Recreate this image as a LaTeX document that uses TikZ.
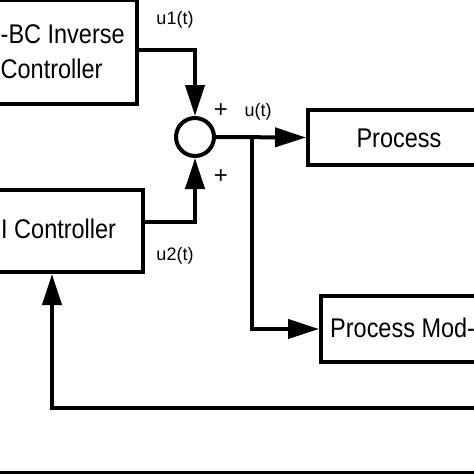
\documentclass[tikz,border=0pt]{standalone}
\usepackage{fontspec}
\setmainfont{Liberation Sans}
\newfontfamily\boxfont[FakeStretch=0.87]{Liberation Sans}
\usetikzlibrary{arrows.meta,calc}
\begin{document}
\begin{tikzpicture}[x=1pt,y=-1pt,
  blk/.style={draw,line width=4pt,rectangle,inner sep=0pt},
  sumnode/.style={draw,line width=4pt,circle,inner sep=0pt,minimum size=38pt},
  conn/.style={line width=4pt},
  arr/.style={conn,-{Triangle[length=31pt,width=19pt]}},
  big/.style={inner sep=0pt,font=\boxfont\fontsize{27}{32}\selectfont},
  small/.style={inner sep=0pt,font=\fontsize{18}{22}\selectfont},
  plus/.style={inner sep=0pt,font=\fontsize{24}{28}\selectfont}]
\useasboundingbox (0,0) rectangle (474,474);
\clip (0,0) rectangle (474,474);
\fill[white] (0,0) rectangle (474,474);
% blocks
\node[blk,minimum width=200pt,minimum height=104pt] (tb) at (37,52) {};
\node[blk,minimum width=206pt,minimum height=82pt] (lb) at (40,231) {};
\node[blk,minimum width=200pt,minimum height=55pt] (proc) at (408,137.5) {};
\node[blk,minimum width=200pt,minimum height=66pt] (model) at (421,329) {};
\node[sumnode] (sum) at (195,137) {};
% block texts
\node[big,anchor=base west] (t1) at (0.5,43) {-BC Inverse};
\node[big,anchor=base west] (t2) at (0.5,78) {Controller};
\node[big,anchor=base west] (t3) at (1,238) {I Controller};
\node[big,anchor=base] (t4) at (399,147) {Process};
\node[big,anchor=base west] (t5) at (330,337) {Process Mod-};
% signal labels
\node[small] (l1) at (175,20) {u1(t)};
\node[small] (l2) at (175,256) {u2(t)};
\node[small] (l3) at (258,112) {u(t)};
\node[plus] (p1) at (221,111) {+};
\node[plus] (p2) at (221,177) {+};
% connectors
\coordinate (br) at (252,137);
\coordinate (fbin) at (490,408);
\coordinate (bl) at (-10,473);
\coordinate (brr) at (490,473);
\draw[arr] ([yshift=2pt]tb.east) -| (sum.north);
\draw[arr] ([yshift=9pt]lb.east) -| (sum.south);
\draw[arr] (sum.east) -- (proc.west);
\draw[arr] (br) |- (model.west);
\draw[arr] (fbin) -| ([xshift=12pt]lb.south);
\draw[conn] (bl) -- (brr);
\end{tikzpicture}
\end{document}
